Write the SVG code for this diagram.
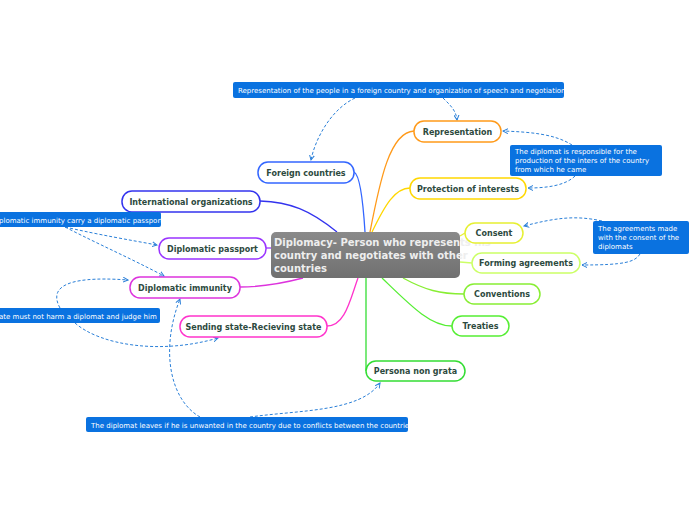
<svg xmlns="http://www.w3.org/2000/svg" width="697" height="520" viewBox="0 0 697 520">
<style>
text{font-family:"DejaVu Sans","Liberation Sans",sans-serif}
.n rect{fill:#fff;stroke-width:1.5}
.n text{font-size:8px;font-weight:bold;fill:#2d4a3e;text-anchor:middle}
.b rect{fill:#0a72e0}
.b text{font-size:7px;fill:#fff}
.e{fill:none;stroke-width:1.3}
.d{fill:none;stroke:#2a7fd8;stroke-width:1;stroke-dasharray:3 2;marker-end:url(#a)}
</style>
<defs>
<marker id="a" viewBox="0 0 6 6" refX="5" refY="3" markerWidth="6" markerHeight="6" orient="auto"><path d="M0,0.5 L5,3 L0,5.5" fill="none" stroke="#2a7fd8" stroke-width="1"/></marker>
<linearGradient id="g" x1="0" y1="0" x2="0" y2="1"><stop offset="0" stop-color="#8a8a8a"/><stop offset="1" stop-color="#707070"/></linearGradient>
</defs>
<rect width="697" height="520" fill="#fff"/>
<g id="edges">
<path class="e" stroke="#ff9a1a" d="M370,232 C380,180 390,132 414,131"/>
<path class="e" stroke="#ffd700" d="M372,232 C385,205 395,188 410,188"/>
<path class="e" stroke="#3366ff" d="M365,232 C363,200 360,175 354,172"/>
<path class="e" stroke="#3333ee" d="M337,232 C310,210 290,202 260,201"/>
<path class="e" stroke="#9933ff" d="M271,248 L266,248"/>
<path class="e" stroke="#dd33dd" d="M303,278 C280,284 260,287 240,287"/>
<path class="e" stroke="#ff33cc" d="M358,278 C350,300 345,326 327,326"/>
<path class="e" stroke="#e6f032" d="M460,236 L465,233"/>
<path class="e" stroke="#ccff66" d="M460,262 L472,263"/>
<path class="e" stroke="#88ee33" d="M403,278 C425,290 440,294 464,294"/>
<path class="e" stroke="#55ee33" d="M382,278 C410,305 430,326 452,326"/>
<path class="e" stroke="#33dd33" d="M366,278 L366,371"/>
<path class="d" d="M355,98 C330,110 315,140 311,160"/>
<path class="d" d="M443,98 C450,105 456,110 457,120"/>
<path class="d" d="M572,145 C555,134 530,132 503,131"/>
<path class="d" d="M575,176 C565,186 545,188 528,188"/>
<path class="d" d="M602,221 C575,215 555,218 524,226"/>
<path class="d" d="M640,254 C635,262 625,265 582,265"/>
<path class="d" d="M65,227 C100,235 130,240 157,245"/>
<path class="d" d="M65,227 C100,245 130,258 164,276"/>
<path class="d" d="M60,308 C50,290 60,275 128,280"/>
<path class="d" d="M75,323 C100,345 160,355 218,338"/>
<path class="d" d="M200,417 C170,400 160,350 180,299"/>
<path class="d" d="M250,417 C300,410 360,412 380,383"/>
</g>
<g id="center"><rect x="271" y="232" width="189" height="46" rx="5" fill="url(#g)"/>
<text font-size="10" font-weight="bold" fill="#eee"><tspan x="274" y="246">Diplomacy- Person who represents his</tspan><tspan x="274" y="259">country and negotiates with other</tspan><tspan x="274" y="272">countries</tspan></text></g>
<g id="representation" class="n"><rect x="414" y="121" width="87" height="21" rx="10" stroke="#ff9a1a"/><text x="457.5" y="134.5">Representation</text></g>
<g id="protection" class="n"><rect x="410" y="178" width="116" height="21" rx="10" stroke="#ffd700"/><text x="468" y="191.5">Protection of interests</text></g>
<g id="foreign" class="n"><rect x="258" y="162" width="96" height="21" rx="10" stroke="#3366ff"/><text x="306" y="175.5">Foreign countries</text></g>
<g id="intl" class="n"><rect x="122" y="191" width="138" height="21" rx="10" stroke="#3333ee"/><text x="191" y="204.5">International organizations</text></g>
<g id="passport" class="n"><rect x="159" y="238" width="107" height="21" rx="10" stroke="#9933ff"/><text x="212.5" y="251.5">Diplomatic passport</text></g>
<g id="immunity" class="n"><rect x="130" y="277" width="110" height="21" rx="10" stroke="#dd33dd"/><text x="185" y="290.5">Diplomatic immunity</text></g>
<g id="sending" class="n"><rect x="180" y="316" width="147" height="21" rx="10" stroke="#ff33cc"/><text x="253.5" y="329.5">Sending state-Recieving state</text></g>
<g id="consent" class="n"><rect x="465" y="223" width="58" height="20" rx="10" stroke="#e6f032"/><text x="494" y="236">Consent</text></g>
<g id="forming" class="n"><rect x="472" y="253" width="108" height="20" rx="10" stroke="#ccff66"/><text x="526" y="266">Forming agreements</text></g>
<g id="conventions" class="n"><rect x="464" y="284" width="76" height="20" rx="10" stroke="#88ee33"/><text x="502" y="297">Conventions</text></g>
<g id="treaties" class="n"><rect x="452" y="316" width="57" height="20" rx="10" stroke="#55ee33"/><text x="480.5" y="329">Treaties</text></g>
<g id="persona" class="n"><rect x="366" y="361" width="99" height="20" rx="10" stroke="#33dd33"/><text x="415.5" y="374">Persona non grata</text></g>
<g id="note-top" class="b"><rect x="233" y="82" width="331" height="16" rx="2"/><text x="238" y="93">Representation of the people in a foreign country and organization of speech and negotiations</text></g>
<g id="note-interest" class="b"><rect x="510" y="145" width="152" height="31" rx="2"/><text><tspan x="515" y="154">The diplomat is responsible for the</tspan><tspan x="515" y="163">production of the inters of the country</tspan><tspan x="515" y="172">from which he came</tspan></text></g>
<g id="note-agree" class="b"><rect x="593" y="221" width="96" height="33" rx="2"/><text><tspan x="598" y="231">The agreements made</tspan><tspan x="598" y="240">with the consent of the</tspan><tspan x="598" y="249">diplomats</tspan></text></g>
<g id="note-passport" class="b"><rect x="-5" y="212" width="166" height="15" rx="2"/><text x="-1" y="222.5">plomatic immunity carry a diplomatic passport</text></g>
<g id="note-harm" class="b"><rect x="-5" y="308" width="165" height="15" rx="2"/><text x="-1" y="318.5">ate must not harm a diplomat and judge him</text></g>
<g id="note-grata" class="b"><rect x="86" y="417" width="322" height="15" rx="2"/><text x="91" y="427.5">The diplomat leaves if he is unwanted in the country due to conflicts between the countries</text></g>
</svg>
